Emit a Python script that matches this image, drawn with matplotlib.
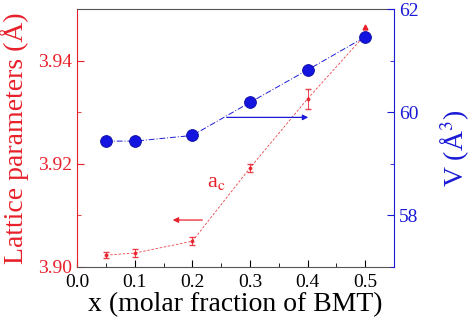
import matplotlib.pyplot as plt
from matplotlib.ticker import MultipleLocator

plt.rcParams['font.family'] = ['Liberation Serif', 'DejaVu Serif']
plt.rcParams['mathtext.fontset'] = 'stix'

RED = '#e8202a'
BLUE = '#1a1ad6'

x = [0.05, 0.1, 0.2, 0.3, 0.4, 0.5]
a_c = [3.9023, 3.9027, 3.9050, 3.9192, 3.9326, 3.9450]
a_err = [0.0006, 0.0007, 0.0008, 0.0007, 0.0019, 0.0003]
vol = [59.44, 59.44, 59.55, 60.19, 60.82, 61.46]

fig, ax = plt.subplots(figsize=(4.74, 3.24), dpi=100)
fig.subplots_adjust(left=0.163, right=0.831, top=0.972, bottom=0.176)

ax.errorbar(x, a_c, yerr=a_err, color=RED, lw=0.6, ls=(0, (3, 2)),
            marker='o', ms=1.8, capsize=2.5, elinewidth=0.7, alpha=0.85,
            zorder=2)
ax.plot([0.5], [3.9466], marker='^', color=RED, ms=3.5, ls='none')
ax.set_xlim(0, 0.55)
ax.set_ylim(3.90, 3.95)
ax.xaxis.set_major_locator(MultipleLocator(0.1))
ax.xaxis.set_minor_locator(MultipleLocator(0.05))
ax.yaxis.set_major_locator(MultipleLocator(0.02))
ax.yaxis.set_minor_locator(MultipleLocator(0.01))
ax.yaxis.set_major_formatter(plt.FormatStrFormatter('%.2f'))
ax.xaxis.set_major_formatter(plt.FormatStrFormatter('%.1f'))
ax.tick_params(which='both', direction='in', top=False, labelsize=14)
ax.tick_params(axis='y', colors=RED, which='both', pad=4)
ax.tick_params(axis='x', pad=5)
ax.tick_params(which='major', length=5)
ax.tick_params(which='minor', length=3)
ax.set_xlabel('x (molar fraction of BMT)', fontsize=20, labelpad=1)
ax.set_ylabel('Lattice parameters (Å)', fontsize=20, color=RED, labelpad=6)
for s in ['top', 'bottom']:
    ax.spines[s].set_color('#555555')
ax.spines['left'].set_color(RED)
ax.spines['right'].set_visible(False)

ax.annotate('', xy=(0.161, 3.9091), xytext=(0.222, 3.9091),
            arrowprops=dict(arrowstyle='-|>', color=RED, lw=0.9,
                            mutation_scale=8))
ax.text(0.225, 3.9155, r'a$_{\rm c}$', color=RED, fontsize=16)

ax2 = ax.twinx()
ax2.plot(x, vol, color=BLUE, lw=0.7, ls=(0, (6, 2, 1, 2)), marker='o',
         ms=8.5, mfc='#1414e0', mec='#0a0aa0', mew=0.6, zorder=3)
ax2.set_ylim(57, 62)
ax2.yaxis.set_major_locator(MultipleLocator(2))
ax2.yaxis.set_minor_locator(MultipleLocator(1))
ax2.tick_params(which='both', direction='in', colors=BLUE, labelsize=14)
ax2.tick_params(which='major', length=5)
ax2.tick_params(which='minor', length=3)
ax2.set_ylabel('V (Å$^3$)', fontsize=20, color=BLUE)
ax2.yaxis.set_label_coords(1.14, 0.46)
ax2.spines['right'].set_color(BLUE)
ax2.spines['left'].set_visible(False)
ax2.spines['top'].set_visible(False)
ax2.spines['bottom'].set_visible(False)
ax2.annotate('', xy=(0.406, 59.9), xytext=(0.255, 59.9),
             arrowprops=dict(arrowstyle='-|>', color=BLUE, lw=0.9,
                             mutation_scale=8))

plt.savefig('out.png')
